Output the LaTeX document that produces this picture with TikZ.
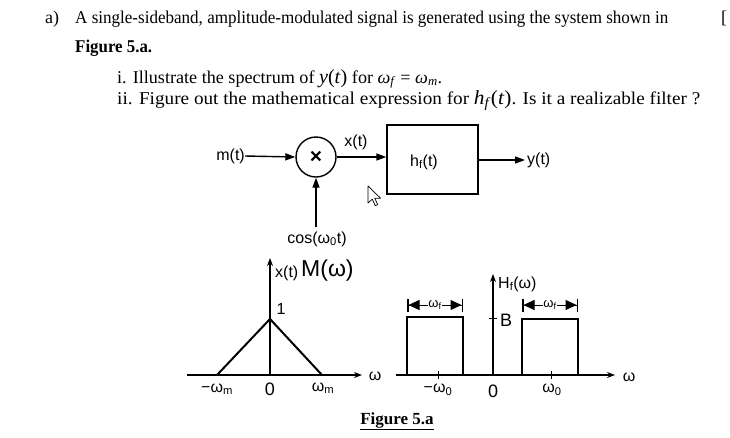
\documentclass[tikz,border=0pt]{standalone}
\usepackage{fontspec}
\setmainfont{Liberation Serif}
\newfontfamily\lsans{Liberation Sans}
\usetikzlibrary{arrows.meta}
\newcommand\fitw[2]{\resizebox{#1}{\height}{#2}}
\begin{document}
\begin{tikzpicture}[x=1pt,y=-1pt,
  txt/.style={inner sep=0pt, anchor=base west, font=\fontsize{18}{21}\selectfont},
  lab/.style={inner sep=0pt, font=\lsans\fontsize{16}{18}\selectfont},
  big/.style={inner sep=0pt, font=\lsans\fontsize{18}{20}\selectfont},
  sml/.style={inner sep=0.5pt, font=\lsans\fontsize{13}{15}\selectfont, fill=white},
  barrow/.style={-{Triangle[length=10pt,width=7pt]}, line width=1.4pt},
  axis/.style={-{Stealth[length=8pt,width=6pt]}, line width=1.1pt},
  thick line/.style={line width=2pt},
  dimarr/.style={{Bar[width=13pt,line width=1.5pt]Triangle[length=11pt,width=10pt]}-{Triangle[length=11pt,width=10pt]Bar[width=13pt,line width=1.5pt]}, line width=1pt},
  tick/.style={line width=0.9pt}]
\fill[white] (0,0) rectangle (730,437);
\useasboundingbox (0,0) rectangle (730,437);

% ---- question text ----
\node[txt] (qa) at (45,23) {a)};
\node[txt] (q1) at (75,23) {\fitw{593pt}{A single-sideband, amplitude-modulated signal is generated using the system shown in}};
\node[txt] (qb) at (721,23) {[};
\node[txt, font=\bfseries\fontsize{18}{21}\selectfont] (q2) at (75,52) {\fitw{77pt}{Figure 5.a.}};
\node[txt] (q3) at (117,83) {\fitw{325pt}{i. Illustrate the spectrum of {\fontsize{20}{22}\selectfont\itshape y}{\fontsize{20}{22}\selectfont(\textit{t})} for \textit{ω}\textsubscript{\textit{f}} = \textit{ω}\textsubscript{\textit{m}}.}};
\node[txt] (q4) at (117,104) {\fitw{583pt}{ii. Figure out the mathematical expression for {\fontsize{20}{22}\selectfont\textit{h}\textsubscript{\textit{f}}(\textit{t})}. Is it a realizable filter ?}};

% ---- block diagram ----
\node[lab, anchor=east] (m) at (245,156) {m(t)};
\node[draw, circle, minimum size=40pt, inner sep=0pt, line width=1.4pt, font=\lsans\bfseries\fontsize{21}{23}\selectfont] (mul) at (316,157) {×};
\draw[barrow] (m.east) -- (mul.west);
\node[draw, minimum width=91pt, minimum height=69pt, inner sep=0pt, line width=1.4pt] (hf) at (432.5,159.5) {};
\node[lab] (hfl) at (424,162) {h\textsubscript{f}(t)};
\draw[barrow] (mul.east) -- (mul.east -| hf.west);
\node[lab] (xt) at (356,142) {x(t)};
\node[lab, anchor=west] (y) at (527,160) {y(t)};
\draw[barrow, shorten >=2pt] (y.west -| hf.east) -- (y.west);
\node[lab] (cos) at (317,239) {cos(ω\textsubscript{0}t)};
\draw[barrow] ([yshift=4pt]mul.south |- cos.north) -- (mul.south);
% mouse pointer
\draw[fill=white, line width=0.7pt, line join=round] (368,186) -- ++(0,17) -- ++(4.3,-3.8) -- ++(3,6.5) -- ++(2.4,-1.1) -- ++(-3,-6.4) -- ++(5.8,0) -- cycle;

% ---- spectrum M(w) ----
\coordinate (o1) at (270,375);
\coordinate (x1l) at (187,375);
\coordinate (x1r) at (362,375);
\coordinate (y1t) at (270,258);
\draw[axis] (x1l) -- (x1r);
\draw[axis] (o1) -- (y1t);
\coordinate (t1l) at (217,375);
\coordinate (t1p) at (270,319);
\coordinate (t1r) at (322,375);
\draw[thick line, line join=round] (t1l) -- (t1p) -- (t1r);
\node[lab] (one) at (281,309) {1};
\node[lab, anchor=west] (xtl) at (275,273) {x(t)};
\node[inner sep=0pt, font=\lsans\fontsize{23}{25}\selectfont, anchor=west] (Mw) at (301,271) {M(ω)};
\node[lab] (wm1) at (217,389) {−ω\textsubscript{m}};
\node[big] (z1) at (270,389) {0};
\node[lab] (wm2) at (323,388) {ω\textsubscript{m}};
\node[lab] (w1) at (375,376) {ω};

% ---- filter H_f(w) ----
\coordinate (o2) at (493,375);
\coordinate (x2l) at (396,375);
\coordinate (x2r) at (615,375);
\coordinate (y2t) at (493,274);
\draw[axis] (x2l) -- (x2r);
\draw[axis] (o2) -- (y2t);
\draw[thick line, line join=miter] (407,375) -- (407,317) -- (463,317) -- (463,375);
\draw[thick line, line join=miter] (522,375) -- (522,319) -- (578,319) -- (578,375);
\draw[tick] (438,371) -- (438,379);
\draw[tick] (551,371) -- (551,379);
\draw[tick] (489,318) -- (497,318);
\node[lab, anchor=west] (Hf) at (498,284) {H\textsubscript{f}(ω)};
\node[big] (B) at (506,320) {B};
\draw[dimarr] (407,305) -- node[sml] {ω\textsubscript{f}} (463,305);
\draw[dimarr] (522,305) -- node[sml] {ω\textsubscript{f}} (578,305);
\node[lab] (wo1) at (438,390) {−ω\textsubscript{0}};
\node[big] (z2) at (493,391) {0};
\node[lab] (wo2) at (552,390) {ω\textsubscript{0}};
\node[lab] (w2) at (629,377) {ω};

% caption
\node[inner sep=0pt, font=\bfseries\fontsize{17}{20}\selectfont] (cap) at (397,421) {\underline{Figure 5.a}};
\end{tikzpicture}
\end{document}
